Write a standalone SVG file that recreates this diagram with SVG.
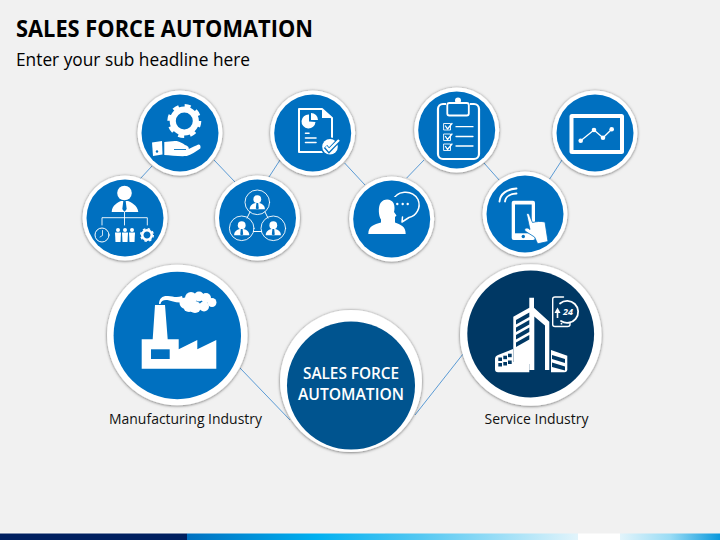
<svg xmlns="http://www.w3.org/2000/svg" xmlns:xlink="http://www.w3.org/1999/xlink" width="720" height="540" viewBox="0 0 720 540">
<style>
text{font-family:"Open Sans","Noto Sans","Liberation Sans",sans-serif}
.ring{fill:#fff;filter:url(#sh)}
.b{fill:#0070c0}
.n{fill:#003864}
.w{fill:#fff}
.s{fill:none;stroke:#fff;stroke-linecap:round;stroke-linejoin:round}
.c{fill:none;stroke:#5b9bd5;stroke-width:1}
.lab{font-size:14px;fill:#111;text-anchor:middle}
.ctr{font-size:16px;font-weight:600;fill:#fff;text-anchor:middle}
</style>
<defs>
<filter id="sh" x="-15%" y="-15%" width="130%" height="130%"><feDropShadow dx="0" dy="0.5" stdDeviation="1.4" flood-color="#000" flood-opacity="0.6"/></filter>
<linearGradient id="g1"><stop offset="0" stop-color="#0070c0"/><stop offset="0.33" stop-color="#00b0f0"/><stop offset="0.6" stop-color="#55c8f2"/><stop offset="1" stop-color="#e2f4fb"/></linearGradient>
<linearGradient id="g2"><stop offset="0" stop-color="#e2f4fb"/><stop offset="0.5" stop-color="#9adcf5"/><stop offset="1" stop-color="#0a98dc"/></linearGradient>
<g id="gear"><circle r="0.68" fill="none" stroke="#fff" stroke-width="0.36"/><circle r="0.9" fill="none" stroke="#fff" stroke-width="0.2" stroke-dasharray="0.353 0.353"/></g>
<g id="man"><circle cx="0" cy="-3.8" r="3.9" class="w"/><path class="w" d="M-7.6 6.2C-7.6 1.8-4 .6-1.8 0H1.8C4 .6 7.6 1.8 7.6 6.2Z"/><path class="b" d="M-.9 0H.9L1.5 5.4 0 6.2-1.5 5.4Z"/></g>
</defs>
<rect width="720" height="540" fill="#f1f1f1"/>
<rect x="0" y="532.6" width="187" height="1" fill="#fff"/>
<rect x="187" y="532.8" width="198" height="0.7" fill="#fafafa"/>
<rect x="0" y="533.5" width="187" height="6.5" fill="#002060"/>
<rect x="187" y="533.5" width="391" height="6.5" fill="url(#g1)"/>
<rect x="578" y="533.5" width="42" height="6.5" fill="#fff"/>
<rect x="620" y="533.5" width="100" height="6.5" fill="url(#g2)"/>
<text x="16" y="37" font-size="23" font-weight="700" fill="#000" textLength="297" lengthAdjust="spacingAndGlyphs">SALES FORCE AUTOMATION</text>
<text x="16" y="66" font-size="18" fill="#000" textLength="234" lengthAdjust="spacingAndGlyphs">Enter your sub headline here</text>
<g id="connectors">
<path class="c" d="M140 179L152 166M214 160L235 182M269 177L280 160M344.6 163L365 185M406.7 178L424 160M484 163L500 181M549 180L562 160M240 368L290 420M415 415L463 354"/>
</g>
<g id="node-hand">
<circle class="ring" cx="180" cy="133" r="42.5"/><circle class="b" cx="180" cy="133" r="38.5"/>
<use xlink:href="#gear" transform="translate(184.3 121) scale(17)"/>
<path class="w" d="M152 142.500L162 141 162.500 154.500 153 156Z"/><circle class="b" cx="157" cy="151.500" r="1.200"/>
<path class="w" d="M164.300 142C168 141.800 173 140.500 176.700 141 180 141.500 183 143.500 185 145 188 145.700 189 147.500 188.800 149 192 147.500 196 145.500 198.300 144.500 200.500 144.500 201 146.500 200.300 148.500 196 151.500 191 155 186.700 156 180 156.500 171 155.500 164.300 155Z"/>
<path d="M174 149.500H186" stroke="#0070c0" stroke-width="0.900" fill="none"/>
</g>
<g id="node-org">
<circle class="ring" cx="125" cy="218" r="42.500"/><circle class="b" cx="125" cy="218" r="38.500"/>
<circle class="w" cx="124.500" cy="193" r="7.300"/>
<path class="w" d="M111.700 212C112 205 118 202.500 121 201H128C131 202.500 137.500 205 138.300 212Z"/>
<path class="b" d="M123.300 201H125.700L126.700 209 124.500 212 122.300 209Z"/>
<path class="s" stroke-width="0.900" d="M102 225V217.700H147.300V225M124.500 212V225"/>
<circle class="s" stroke-width="1" cx="102" cy="235" r="7"/><path class="s" stroke-width="0.800" d="M102.500 230.500V235.500L100 237"/>
<g class="w"><circle cx="118" cy="230" r="2"/><path d="M115 232.500H121L120.500 242H115.500Z"/><circle cx="125" cy="230" r="2"/><path d="M122 232.500H128L127.500 242H122.500Z"/><circle cx="132" cy="230" r="2"/><path d="M129 232.500H135L134.500 242H129.500Z"/></g>
<use xlink:href="#gear" transform="translate(147 235) scale(7)"/>
</g>
<g id="node-team">
<circle class="ring" cx="257.500" cy="218" r="42.500"/><circle class="b" cx="257.500" cy="218" r="38.500"/>
<path class="s" stroke-width="1" d="M250 212L247 218M265 212L268 218M253.500 231.500H261.500"/>
<circle class="s" stroke-width="0.900" cx="257.300" cy="202.300" r="12.300"/><circle class="s" stroke-width="0.900" cx="241.700" cy="228.300" r="12.300"/><circle class="s" stroke-width="0.900" cx="273.300" cy="228.300" r="12.300"/>
<use xlink:href="#man" x="257.300" y="203"/><use xlink:href="#man" x="241.700" y="229"/><use xlink:href="#man" x="273.300" y="229"/>
</g>
<g id="node-doc">
<circle class="ring" cx="312.700" cy="133" r="42.500"/><circle class="b" cx="312.700" cy="133" r="38.500"/>
<path class="s" stroke-width="2" d="M299 109H322L332 118V152H299Z"/>
<path class="w" d="M322 109V118H332Z"/>
<path class="w" d="M309 114.500V121.500L315.500 122A7 7 0 1 1 309 114.500Z"/><path class="w" d="M311 113V120H318A7 7 0 0 0 311 113Z"/>
<path class="s" stroke-width="1.600" d="M305.500 133.300H309M305.500 138H316M305.500 142.500H316"/>
<circle fill="#0070c0" cx="330" cy="146.700" r="9.500"/><circle class="w" cx="330" cy="146.700" r="7.800"/>
<path d="M325.500 146.500L329 150.500 339 140" fill="none" stroke="#0070c0" stroke-width="4.500"/>
<path d="M326 146.500L329 150 339 140" fill="none" stroke="#fff" stroke-width="2.300"/>
</g>
<g id="node-speech">
<circle class="ring" cx="391.700" cy="219" r="42.500"/><circle class="b" cx="391.700" cy="219" r="38.500"/>
<path class="s" stroke-width="1.500" d="M392 202C396 190 412 189 418 199.500 421.500 208 416 216 409 217.500L402 222 402.500 217"/>
<path class="b" d="M377 197H396V221H377Z"/>
<path class="w" d="M368.300 234C368.500 226 374 224.500 381 222.500V219.500C378.500 216 378 207 380.500 203 384 198 391 198.500 393.500 203 395 206 394.500 210 394 212L396.500 215.500 395 217V222.500C400 224.500 405.700 226 405.700 234Z"/>
<g class="w"><circle cx="397.300" cy="204" r="1.200"/><circle cx="402.700" cy="204" r="1.200"/><circle cx="407.700" cy="204" r="1.200"/></g>
</g>
<g id="node-clipboard">
<circle class="ring" cx="456.700" cy="130" r="42.500"/><circle class="b" cx="456.700" cy="130" r="38.500"/>
<rect class="s" stroke-width="2.200" x="438" y="104" width="41" height="55" rx="5"/>
<path class="b" d="M446 100H470V116H446Z"/>
<rect class="s" stroke-width="1.800" x="447.300" y="103" width="21.500" height="12.500" rx="2"/>
<circle class="w" cx="458" cy="100.500" r="3"/>
<g class="s" stroke-width="0.900"><rect x="444" y="123.500" width="6.500" height="6.500"/><rect x="444" y="134" width="6.500" height="6.500"/><rect x="444" y="144" width="6.500" height="6.500"/></g>
<path class="s" stroke-width="1.300" d="M445.500 126L447.500 129 452 123.500M445.500 136.500L447.500 139.500 452 134M445.500 146.500L447.500 149.500 452 144M456 126.700H473M456 136.500H473M456 146H473"/>
</g>
<g id="node-phone">
<circle class="ring" cx="525" cy="214" r="42.500"/><circle class="b" cx="525" cy="214" r="38.500"/>
<path class="s" stroke-width="1.900" d="M499.500 201.500C500 194 507 189 516.500 188.500M505 201.500C505.500 197 510 193.800 516.500 193.500"/>
<rect class="w" x="511.700" y="200.700" width="23.300" height="39.300" rx="2"/>
<rect class="b" x="515" y="204.500" width="16.700" height="28.800"/>
<circle class="b" cx="523.300" cy="236.500" r="1.700"/>
<path class="w" stroke="#0070c0" stroke-width="0.800" d="M526.500 214C528 212.500 529.500 214 530 216.500L532.500 222.500C536 221.500 541 221 545 222L548 241.500 537.700 243.800 534.500 237 525 231C524 228.500 526 227.500 528.500 228.500L530 229.500Z"/>
</g>
<g id="node-chart">
<circle class="ring" cx="595" cy="133" r="42.500"/><circle class="b" cx="595" cy="133" r="38.500"/>
<rect class="s" stroke-width="4" x="571.500" y="116" width="50.500" height="36" rx="0.500"/>
<path class="s" stroke-width="1.300" d="M580.700 140.700L594 130 603 137.700 611.700 129.300"/>
<g class="w"><circle cx="580.700" cy="140.700" r="2.300"/><circle cx="594" cy="130" r="2.300"/><circle cx="603" cy="137.700" r="2.300"/><circle cx="611.700" cy="129.300" r="2.300"/></g>
</g>
<g id="node-manufacturing">
<circle class="ring" cx="177.300" cy="335" r="70.300"/><circle class="b" cx="177.300" cy="335.500" r="63.700"/>
<path class="w" d="M155 305H165L167.700 339.300H178.700V349.300L197.300 340V349.300L216.300 340V368.700H141.700V339.300H152.700Z"/>
<rect class="b" x="151" y="349.300" width="18.700" height="9.700"/>
<path class="w" d="M159 304C159 298 163 295.500 168 296 173 296.500 177 298 182 296L184 302C177 303.500 172 301 167.500 300 163.500 299.500 161 301 160.500 304Z"/>
<g class="w"><circle cx="185" cy="303" r="5.500"/><circle cx="191" cy="298" r="6"/><circle cx="199" cy="296.500" r="5"/><circle cx="206" cy="298" r="5"/><circle cx="212" cy="302.500" r="4.500"/><circle cx="204" cy="306.500" r="5"/><circle cx="195" cy="307" r="6"/><circle cx="189" cy="306" r="6"/></g>
<text class="lab" x="185.500" y="424" textLength="153" lengthAdjust="spacingAndGlyphs">Manufacturing Industry</text>
</g>
<g id="node-service">
<circle class="ring" cx="530.800" cy="335" r="70.800"/><circle class="n" cx="530.700" cy="334" r="63.400"/>
<path class="w" d="M529.300 297.700H534V307.700L549.300 321.700V370H529.300V364H513.300V316.700L529.300 307.700Z"/>
<path class="n" d="M534.300 316.500L545 325.500V370H534.300Z"/>
<g class="n"><path d="M516 320L529.300 312.500V317L516 324.500Z"/><path d="M516 327.500L529.300 320V324.500L516 332Z"/><path d="M516 335L529.300 327.500V332L516 339.500Z"/><path d="M516 342.500L529.300 335V339.500L516 347Z"/></g>
<path class="w" d="M495 359Q495 356 498 355L513 349V362H529.300V372.300H498Q495 372.300 495 369.300Z"/>
<g class="n"><rect x="498.300" y="357.500" width="3.700" height="3.500"/><rect x="503.300" y="355.700" width="3.700" height="3.500"/><rect x="508" y="353.700" width="3.700" height="3.500"/><rect x="498.300" y="363" width="3.700" height="3.500"/><rect x="503.300" y="362" width="3.700" height="3.500"/><rect x="508" y="360.500" width="3.700" height="3.500"/></g>
<path class="w" d="M551 350L567.300 355.700V369.300Q567.300 372.300 564.300 372.300H551Z"/>
<path class="n" d="M552 355L565 359V363L552 359ZM552 362.500L565 366.500V370.500L552 367Z"/>
<path class="s" stroke-width="1.400" d="M563.500 297H555Q552.700 297 552.700 299V324.500Q552.700 326.500 555 326.500H567.500Q570 326.500 570 324.500V323"/>
<circle class="w" cx="561.500" cy="323.700" r="0.900"/>
<path class="n" d="M556 303H575V320.500H556Z"/>
<path class="s" stroke-width="1.800" d="M560 303.500A11 11 0 1 1 561 321"/>
<path class="w" d="M554.500 313L557.500 307.500 560.500 313Z"/><rect class="w" x="556.700" y="312" width="1.600" height="6"/>
<text x="568" y="315" font-size="9" font-weight="700" font-style="italic" fill="#fff" text-anchor="middle">24</text>
<text class="lab" x="536.500" y="424" textLength="104" lengthAdjust="spacingAndGlyphs">Service Industry</text>
</g>
<g id="node-center">
<circle class="ring" cx="351" cy="381" r="71"/><circle cx="351" cy="385.500" r="64" fill="#00548f"/>
<text class="ctr" x="351" y="378.500" textLength="96" lengthAdjust="spacingAndGlyphs">SALES FORCE</text>
<text class="ctr" x="351" y="399.500" textLength="106" lengthAdjust="spacingAndGlyphs">AUTOMATION</text>
</g>
</svg>
